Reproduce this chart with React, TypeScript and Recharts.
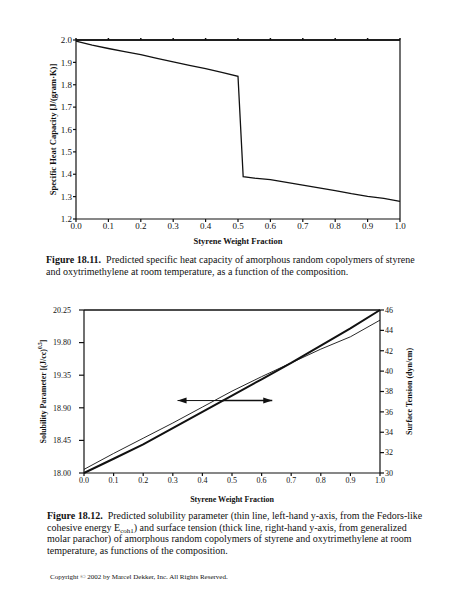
import React from "react";
import {
  LineChart,
  Line,
  XAxis,
  YAxis,
  ReferenceLine,
  CartesianGrid,
  Label,
} from "recharts";

// Figure 18.11 – specific heat capacity vs styrene weight fraction
const fractionTicks = [0, 0.1, 0.2, 0.3, 0.4, 0.5, 0.6, 0.7, 0.8, 0.9, 1.0];
const heatFraction = [
  0, 0.05, 0.1, 0.15, 0.2, 0.25, 0.3, 0.35, 0.4, 0.45, 0.5, 0.516, 0.55, 0.6,
  0.65, 0.7, 0.75, 0.8, 0.85, 0.9, 0.95, 1.0,
];
const heatCapacity = [
  1.995, 1.977, 1.962, 1.948, 1.935, 1.918, 1.902, 1.887, 1.872, 1.855, 1.838,
  1.389, 1.383, 1.376, 1.364, 1.351, 1.339, 1.327, 1.313, 1.301, 1.292, 1.279,
];
const heatTicks = [1.2, 1.3, 1.4, 1.5, 1.6, 1.7, 1.8, 1.9, 2.0];

// Figure 18.12 – solubility parameter (thin) and surface tension (thick)
const solFraction = [0, 0.1, 0.2, 0.3, 0.4, 0.5, 0.6, 0.7, 0.8, 0.9, 1.0];
const solubility = [
  18.05, 18.27, 18.48, 18.69, 18.91, 19.13, 19.33, 19.52, 19.71, 19.88, 20.11,
];
const surfaceTension = [
  30.0, 31.4, 32.8, 34.4, 36.0, 37.6, 39.2, 40.8, 42.5, 44.2, 46.0,
];
const solubilityTicks = [18.0, 18.45, 18.9, 19.35, 19.8, 20.25];
const tensionTicks = [30, 32, 34, 36, 38, 40, 42, 44, 46];

// double arrow annotation (x range in weight fraction, level on left axis)
const arrowThinX = [0.316, 0.468];
const arrowThickX = [0.468, 0.636];
const arrowLevel = 19.0;

const heatData = heatFraction.map((x, i) => ({ x, cp: heatCapacity[i] }));
const solData = solFraction.map((x, i) => ({
  x,
  sol: solubility[i],
  st: surfaceTension[i],
}));

const INK = "#111";
const SERIF = "'Liberation Serif', 'Times New Roman', serif";
const blank = () => "";

const SideTitle = ({ viewBox, dx, children, size }: any) => {
  const cx = viewBox.x + dx;
  const cy = viewBox.y + viewBox.height / 2;
  return (
    <text
      x={cx}
      y={cy}
      transform={`rotate(-90 ${cx} ${cy})`}
      textAnchor="middle"
      dominantBaseline="central"
      fill={INK}
      fontFamily={SERIF}
      fontWeight={700}
      fontSize={size}
    >
      {children}
    </text>
  );
};

const Arrow = ({ x1, y1, x2, y2, head, sw }: any) => {
  const tipX = head === "left" ? Math.min(x1, x2) : Math.max(x1, x2);
  const dir = head === "left" ? 1 : -1;
  return (
    <g>
      <line x1={x1} y1={y1} x2={x2} y2={y2} stroke={INK} strokeWidth={sw} />
      <polygon
        points={`${tipX},${y1} ${tipX + dir * 9},${y1 - 3} ${tipX + dir * 9},${y1 + 3}`}
        fill={INK}
      />
    </g>
  );
};

const HeatChart = () => (
  <LineChart
    width={474}
    height={250}
    data={heatData}
    margin={{ top: 32, right: 0, bottom: 0, left: 0 }}
  >
    <CartesianGrid
      xAxisId="b"
      yAxisId="l"
      vertical={false}
      horizontalCoordinatesGenerator={({ offset }: any) => [offset.top]}
      stroke={INK}
      strokeWidth={1.5}
    />
    <XAxis
      xAxisId="b"
      type="number"
      dataKey="x"
      domain={[0, 1]}
      ticks={fractionTicks}
      interval={0}
      tickFormatter={(v: number) => v.toFixed(1)}
      height={31}
      stroke={INK}
      strokeWidth={1.2}
      tickSize={3}
      tickMargin={1}
      tick={{ fill: INK, fontSize: 9, fontFamily: SERIF }}
    >
      <Label
        value="Styrene Weight Fraction"
        position="insideBottom"
        offset={6}
        fill={INK}
        style={{ fontWeight: 700, fontSize: 8.5, fontFamily: SERIF }}
      />
    </XAxis>
    <XAxis
      xAxisId="t"
      orientation="top"
      type="number"
      dataKey="x"
      domain={[0, 1]}
      ticks={fractionTicks}
      interval={0}
      height={8}
      tickFormatter={blank}
      stroke={INK}
      strokeWidth={1.5}
      tickSize={2}
    />
    <YAxis
      yAxisId="l"
      type="number"
      domain={[1.2, 2.0]}
      ticks={heatTicks}
      interval={0}
      tickFormatter={(v: number) => v.toFixed(1)}
      width={76}
      stroke={INK}
      strokeWidth={1.2}
      tickSize={3}
      tickMargin={1}
      tick={{ fill: INK, fontSize: 9, fontFamily: SERIF }}
    >
      <Label
        content={(p: any) => (
          <SideTitle viewBox={p.viewBox} dx={53} size={8.5}>
            Specific Heat Capacity [J/(gram·K)]
          </SideTitle>
        )}
      />
    </YAxis>
    <YAxis
      yAxisId="r"
      orientation="right"
      type="number"
      domain={[1.2, 2.0]}
      ticks={heatTicks}
      interval={0}
      tickFormatter={blank}
      width={74}
      stroke={INK}
      strokeWidth={1.2}
      tickSize={3}
    />
    <YAxis
      yAxisId="r2"
      orientation="right"
      type="number"
      domain={[1.2, 2.0]}
      ticks={heatTicks}
      interval={0}
      tickFormatter={blank}
      mirror
      axisLine={false}
      stroke={INK}
      strokeWidth={1.2}
      tickSize={3}
    />
    <Line
      xAxisId="b"
      yAxisId="l"
      type="linear"
      dataKey="cp"
      stroke={INK}
      strokeWidth={1.3}
      dot={false}
      isAnimationActive={false}
    />
  </LineChart>
);

const SolChart = () => (
  <LineChart
    width={474}
    height={240}
    data={solData}
    margin={{ top: 40, right: 0, bottom: 0, left: 0 }}
  >
    <XAxis
      xAxisId="b"
      type="number"
      dataKey="x"
      domain={[0, 1]}
      ticks={fractionTicks}
      interval={0}
      tickFormatter={(v: number) => v.toFixed(1)}
      height={37}
      stroke={INK}
      strokeWidth={1.2}
      tickSize={3}
      tickMargin={1}
      tick={{ fill: INK, fontSize: 8, fontFamily: SERIF }}
    >
      <Label
        value="Styrene Weight Fraction"
        position="insideBottom"
        offset={8}
        fill={INK}
        style={{ fontWeight: 700, fontSize: 8, fontFamily: SERIF }}
      />
    </XAxis>
    <YAxis
      yAxisId="l"
      type="number"
      domain={[18, 20.25]}
      ticks={solubilityTicks}
      interval={0}
      tickFormatter={(v: number) => v.toFixed(2)}
      width={84}
      stroke={INK}
      strokeWidth={1.2}
      tickSize={5}
      tickMargin={8}
      tick={{ fill: INK, fontSize: 8, fontFamily: SERIF }}
    >
      <Label
        content={(p: any) => (
          <SideTitle viewBox={p.viewBox} dx={43} size={8}>
            Solubility Parameter [(J/cc)
            <tspan dy={-3} fontSize={5.5}>
              0.5
            </tspan>
            <tspan dy={3}>]</tspan>
          </SideTitle>
        )}
      />
    </YAxis>
    <YAxis
      yAxisId="r"
      orientation="right"
      type="number"
      domain={[30, 46]}
      ticks={tensionTicks}
      interval={0}
      width={94}
      stroke={INK}
      strokeWidth={1.2}
      tickSize={4}
      tickMargin={1}
      tick={{ fill: INK, fontSize: 8, fontFamily: SERIF }}
    >
      <Label
        content={(p: any) => (
          <SideTitle viewBox={p.viewBox} dx={29} size={8}>
            Surface Tension (dyn/cm)
          </SideTitle>
        )}
      />
    </YAxis>
    <YAxis
      yAxisId="r2"
      orientation="right"
      type="number"
      domain={[30, 46]}
      ticks={tensionTicks}
      interval={0}
      tickFormatter={blank}
      mirror
      axisLine={false}
      stroke={INK}
      strokeWidth={1.2}
      tickSize={3}
    />
    <ReferenceLine yAxisId="l" xAxisId="b" y={20.25} stroke={INK} strokeWidth={1.5} />
    <ReferenceLine
      xAxisId="b"
      yAxisId="l"
      segment={[
        { x: arrowThinX[0], y: arrowLevel },
        { x: arrowThinX[1], y: arrowLevel },
      ]}
      shape={(p: any) => <Arrow {...p} head="left" sw={1} />}
    />
    <ReferenceLine
      xAxisId="b"
      yAxisId="l"
      segment={[
        { x: arrowThickX[0], y: arrowLevel },
        { x: arrowThickX[1], y: arrowLevel },
      ]}
      shape={(p: any) => <Arrow {...p} head="right" sw={1.6} />}
    />
    <Line
      xAxisId="b"
      yAxisId="l"
      type="linear"
      dataKey="sol"
      stroke={INK}
      strokeWidth={0.9}
      dot={false}
      isAnimationActive={false}
    />
    <Line
      xAxisId="b"
      yAxisId="r"
      type="linear"
      dataKey="st"
      stroke={INK}
      strokeWidth={2}
      dot={false}
      isAnimationActive={false}
    />
  </LineChart>
);

const lineStyle: React.CSSProperties = {
  textAlign: "justify",
  textAlignLast: "justify",
  whiteSpace: "nowrap",
};

const App = () => (
  <div
    style={{
      position: "absolute",
      left: 0,
      top: 0,
      width: 474,
      height: 612,
      background: "#fff",
      fontFamily: SERIF,
      color: INK,
      overflow: "hidden",
    }}
  >
    <div style={{ position: "absolute", left: 0, top: 0 }}>
      <HeatChart />
    </div>
    <div
      style={{
        position: "absolute",
        left: 46,
        top: 254,
        width: 359,
        fontSize: 10,
        lineHeight: "12px",
      }}
    >
      <div style={lineStyle}>
        <b>Figure 18.11.</b>&nbsp; Predicted specific heat capacity of amorphous
        random copolymers of styrene
      </div>
      <div>
        and oxytrimethylene at room temperature, as a function of the
        composition.
      </div>
    </div>
    <div style={{ position: "absolute", left: 0, top: 270 }}>
      <SolChart />
    </div>
    <div
      style={{
        position: "absolute",
        left: 47,
        top: 510,
        width: 358,
        fontSize: 10,
        lineHeight: "11.5px",
      }}
    >
      <div style={lineStyle}>
        <b>Figure 18.12.</b>&nbsp; Predicted solubility parameter (thin line,
        left-hand y-axis, from the Fedors-like
      </div>
      <div style={lineStyle}>
        cohesive energy E
        <sub style={{ fontSize: 7, verticalAlign: "-2px", lineHeight: 0 }}>
          coh1
        </sub>
        ) and surface tension (thick line, right-hand y-axis, from generalized
      </div>
      <div style={lineStyle}>
        molar parachor) of amorphous random copolymers of styrene and
        oxytrimethylene at room
      </div>
      <div>temperature, as functions of the composition.</div>
    </div>
    <div
      style={{
        position: "absolute",
        left: 50,
        top: 572,
        fontSize: 7,
        lineHeight: "10px",
        whiteSpace: "nowrap",
      }}
    >
      Copyright © 2002 by Marcel Dekker, Inc. All Rights Reserved.
    </div>
  </div>
);

export default App;
